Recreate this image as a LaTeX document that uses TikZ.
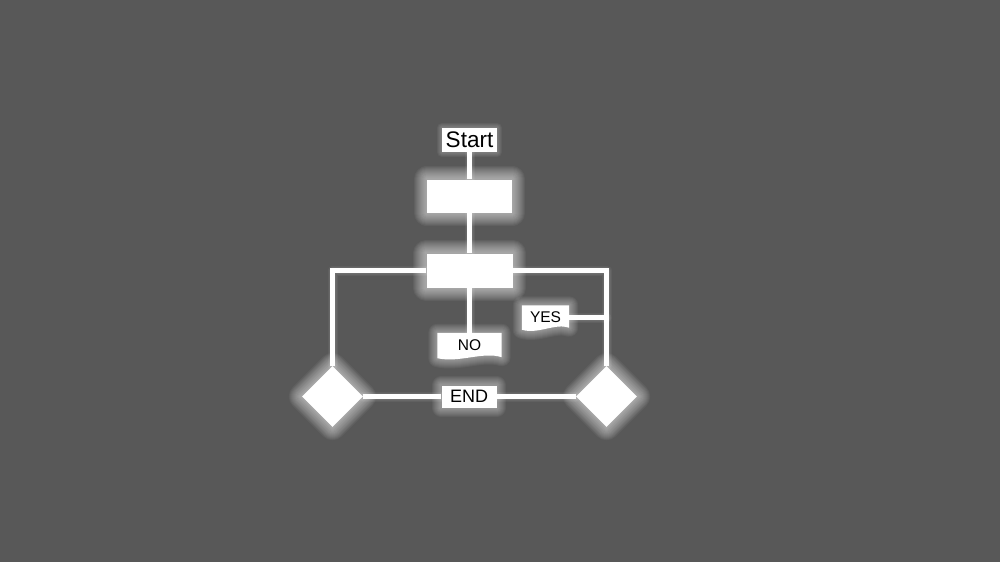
\documentclass[tikz,border=0pt]{standalone}
\usepackage{fontspec}
\setmainfont{Liberation Sans}
\usetikzlibrary{shapes.geometric}
\pgfdeclarelayer{bglayer}
\pgfdeclarelayer{glowlayer}
\pgfdeclarelayer{linelayer}
\pgfdeclarelayer{shapelayer}
\pgfsetlayers{bglayer,glowlayer,linelayer,shapelayer,main}
\definecolor{bggray}{RGB}{88,88,88}
\tikzset{
  box/.style={rectangle, inner sep=0pt, fill=white, text=black},
  docbox/.style={rectangle, inner sep=0pt, text=black},
  dia/.style={diamond, aspect=1, inner sep=0pt, minimum width=61pt, minimum height=61pt, fill=white},
  conn/.style={draw=white, line width=4.5pt},
  glow/.style={draw=white, line width=#1, draw opacity=0.05, line join=round, line cap=round},
  docfill/.style={fill=white},
}
\begin{document}
\begin{tikzpicture}[x=1pt,y=-1pt]
\begin{pgfonlayer}{bglayer}
\fill[bggray] (0,0) rectangle (1000,562);
\end{pgfonlayer}
\useasboundingbox (0,0) rectangle (1000,562);

% nodes
\node[box, minimum width=55pt, minimum height=24pt, font=\fontsize{22.5}{25}\selectfont] (start) at (469.5,140) {Start};
\node[box, minimum width=85pt, minimum height=33pt] (box1) at (469.5,196) {};
\node[box, minimum width=86pt, minimum height=34pt] (box2) at (469.5,270.5) {};
\node[docbox, minimum width=64pt, minimum height=25pt, font=\fontsize{15.5}{17}\selectfont] (nodoc) at (469.5,345.5) {NO};
\node[docbox, minimum width=47pt, minimum height=24pt, font=\fontsize{15.5}{17}\selectfont] (yesdoc) at (545.5,317.5) {YES};
\node[dia] (ldia) at (332.5,396.5) {};
\node[dia] (rdia) at (606.5,396.5) {};
\node[box, minimum width=55pt, minimum height=22pt, font=\fontsize{18}{20}\selectfont] (endn) at (469,396.5) {END};
\coordinate (yj) at (606.5,317.5);

% document shapes
\begin{pgfonlayer}{shapelayer}
\fill[docfill] (nodoc.north west) -- (nodoc.north east) -- ([yshift=1pt]nodoc.south east)
  .. controls ([xshift=-19pt,yshift=7pt]nodoc.south east) and ([xshift=22pt,yshift=-5pt]nodoc.south west) .. (nodoc.south west) -- cycle;
\fill[docfill] (yesdoc.north west) -- (yesdoc.north east) -- ([yshift=2pt]yesdoc.south east)
  .. controls ([xshift=-14pt,yshift=7pt]yesdoc.south east) and ([xshift=16pt,yshift=-5pt]yesdoc.south west) .. (yesdoc.south west) -- cycle;
\end{pgfonlayer}

% connectors
\begin{pgfonlayer}{linelayer}
\draw[conn] (start.south) -- (box1.north);
\draw[conn] (box1.south) -- (box2.north);
\draw[conn] (box2.west) -| (ldia.north);
\draw[conn] (box2.east) -| (rdia.north);
\draw[conn] (box2.south) -- (nodoc.north);
\draw[conn] (yesdoc.east) -- (yj);
\draw[conn] (ldia.east) -- (endn.west);
\draw[conn] (endn.east) -- (rdia.west);
\end{pgfonlayer}

% glow
\begin{pgfonlayer}{glowlayer}
\foreach \w in {2,4,...,26}{
  \draw[glow=\w pt] (box1.north west) rectangle (box1.south east);
  \draw[glow=\w pt] (box2.north west) rectangle (box2.south east);
  \draw[glow=\w pt] (ldia.north) -- (ldia.east) -- (ldia.south) -- (ldia.west) -- cycle;
  \draw[glow=\w pt] (rdia.north) -- (rdia.east) -- (rdia.south) -- (rdia.west) -- cycle;
}
\foreach \w in {2,4,...,18}{
  \draw[glow=\w pt] (nodoc.north west) -- (nodoc.north east) -- ([yshift=1pt]nodoc.south east)
    .. controls ([xshift=-19pt,yshift=7pt]nodoc.south east) and ([xshift=22pt,yshift=-5pt]nodoc.south west) .. (nodoc.south west) -- cycle;
  \draw[glow=\w pt] (yesdoc.north west) -- (yesdoc.north east) -- ([yshift=2pt]yesdoc.south east)
    .. controls ([xshift=-14pt,yshift=7pt]yesdoc.south east) and ([xshift=16pt,yshift=-5pt]yesdoc.south west) .. (yesdoc.south west) -- cycle;
  \draw[glow=\w pt] (endn.north west) rectangle (endn.south east);
}
\foreach \w in {2,4,...,10}{
  \draw[glow=\w pt] (start.north west) rectangle (start.south east);
}
\foreach \w in {6,8,10}{
  \draw[glow=\w pt] (start.south) -- (box1.north);
  \draw[glow=\w pt] (box1.south) -- (box2.north);
  \draw[glow=\w pt] (box2.west) -| (ldia.north);
  \draw[glow=\w pt] (box2.east) -| (rdia.north);
  \draw[glow=\w pt] (box2.south) -- (nodoc.north);
  \draw[glow=\w pt] (yesdoc.east) -- (yj);
  \draw[glow=\w pt] (ldia.east) -- (rdia.west);
}
\end{pgfonlayer}
\end{tikzpicture}
\end{document}
